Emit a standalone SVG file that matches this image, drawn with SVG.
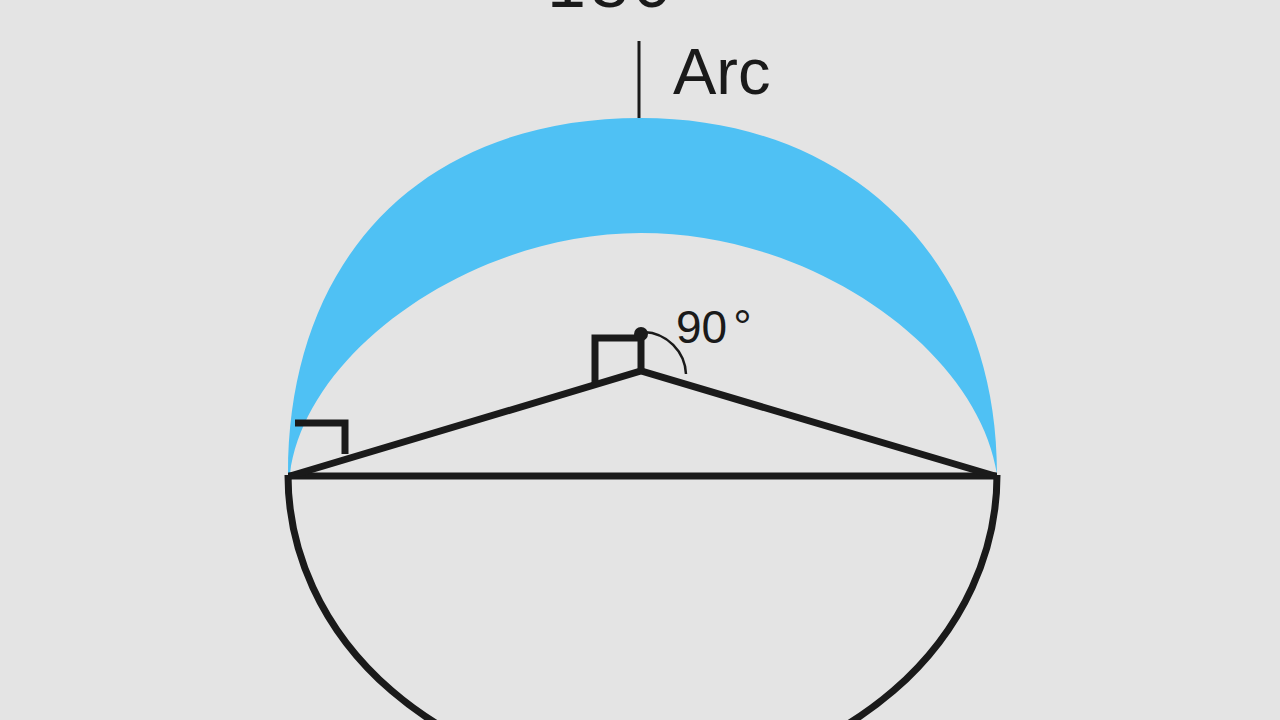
<svg xmlns="http://www.w3.org/2000/svg" width="1280" height="720" viewBox="0 0 1280 720">
<style>
.ln{fill:none;stroke:#1a1a1a;stroke-width:7;stroke-linejoin:miter;stroke-linecap:butt}
.thin{fill:none;stroke:#1a1a1a;stroke-width:3}
.txt{font-family:"Liberation Sans",Arial,sans-serif;fill:#1a1a1a}
</style>
<rect width="1280" height="720" fill="#e4e4e4"/>
<g id="arc-band">
<path d="M288,474 C288,260 420,118 641,118 C850,118 997,260 997,474 C978,352 816,233 641,233 C471,233 305,352 290,474 Z" fill="#4fc1f4"/>
</g>
<g id="lower-circle">
<path class="ln" d="M288,475 A354,305 0 0 0 997,475"/>
</g>
<g id="triangle">
<line class="ln" x1="288" y1="476" x2="997" y2="476"/>
<polyline class="ln" points="290,476 641,371 995,476"/>
</g>
<g id="right-angle-left">
<polyline class="ln" points="295,423 345,423 345,454"/>
</g>
<g id="right-angle-top">
<polyline class="ln" points="595,384 595,338 641,338"/>
<line class="ln" x1="641" y1="333" x2="641" y2="372"/>
<circle cx="641" cy="334" r="7" fill="#1a1a1a"/>
<path d="M644,332 A44,44 0 0 1 686,374" fill="none" stroke="#1a1a1a" stroke-width="2.5"/>
</g>
<g id="labels">
<text class="txt" x="547" y="7" font-size="70" letter-spacing="4">180</text>
<line class="thin" x1="639" y1="41" x2="639" y2="118"/>
<text class="txt" x="673" y="94" font-size="65">Arc</text>
<text class="txt" x="676" y="343" font-size="46">90<tspan dx="6">°</tspan></text>
</g>
</svg>
